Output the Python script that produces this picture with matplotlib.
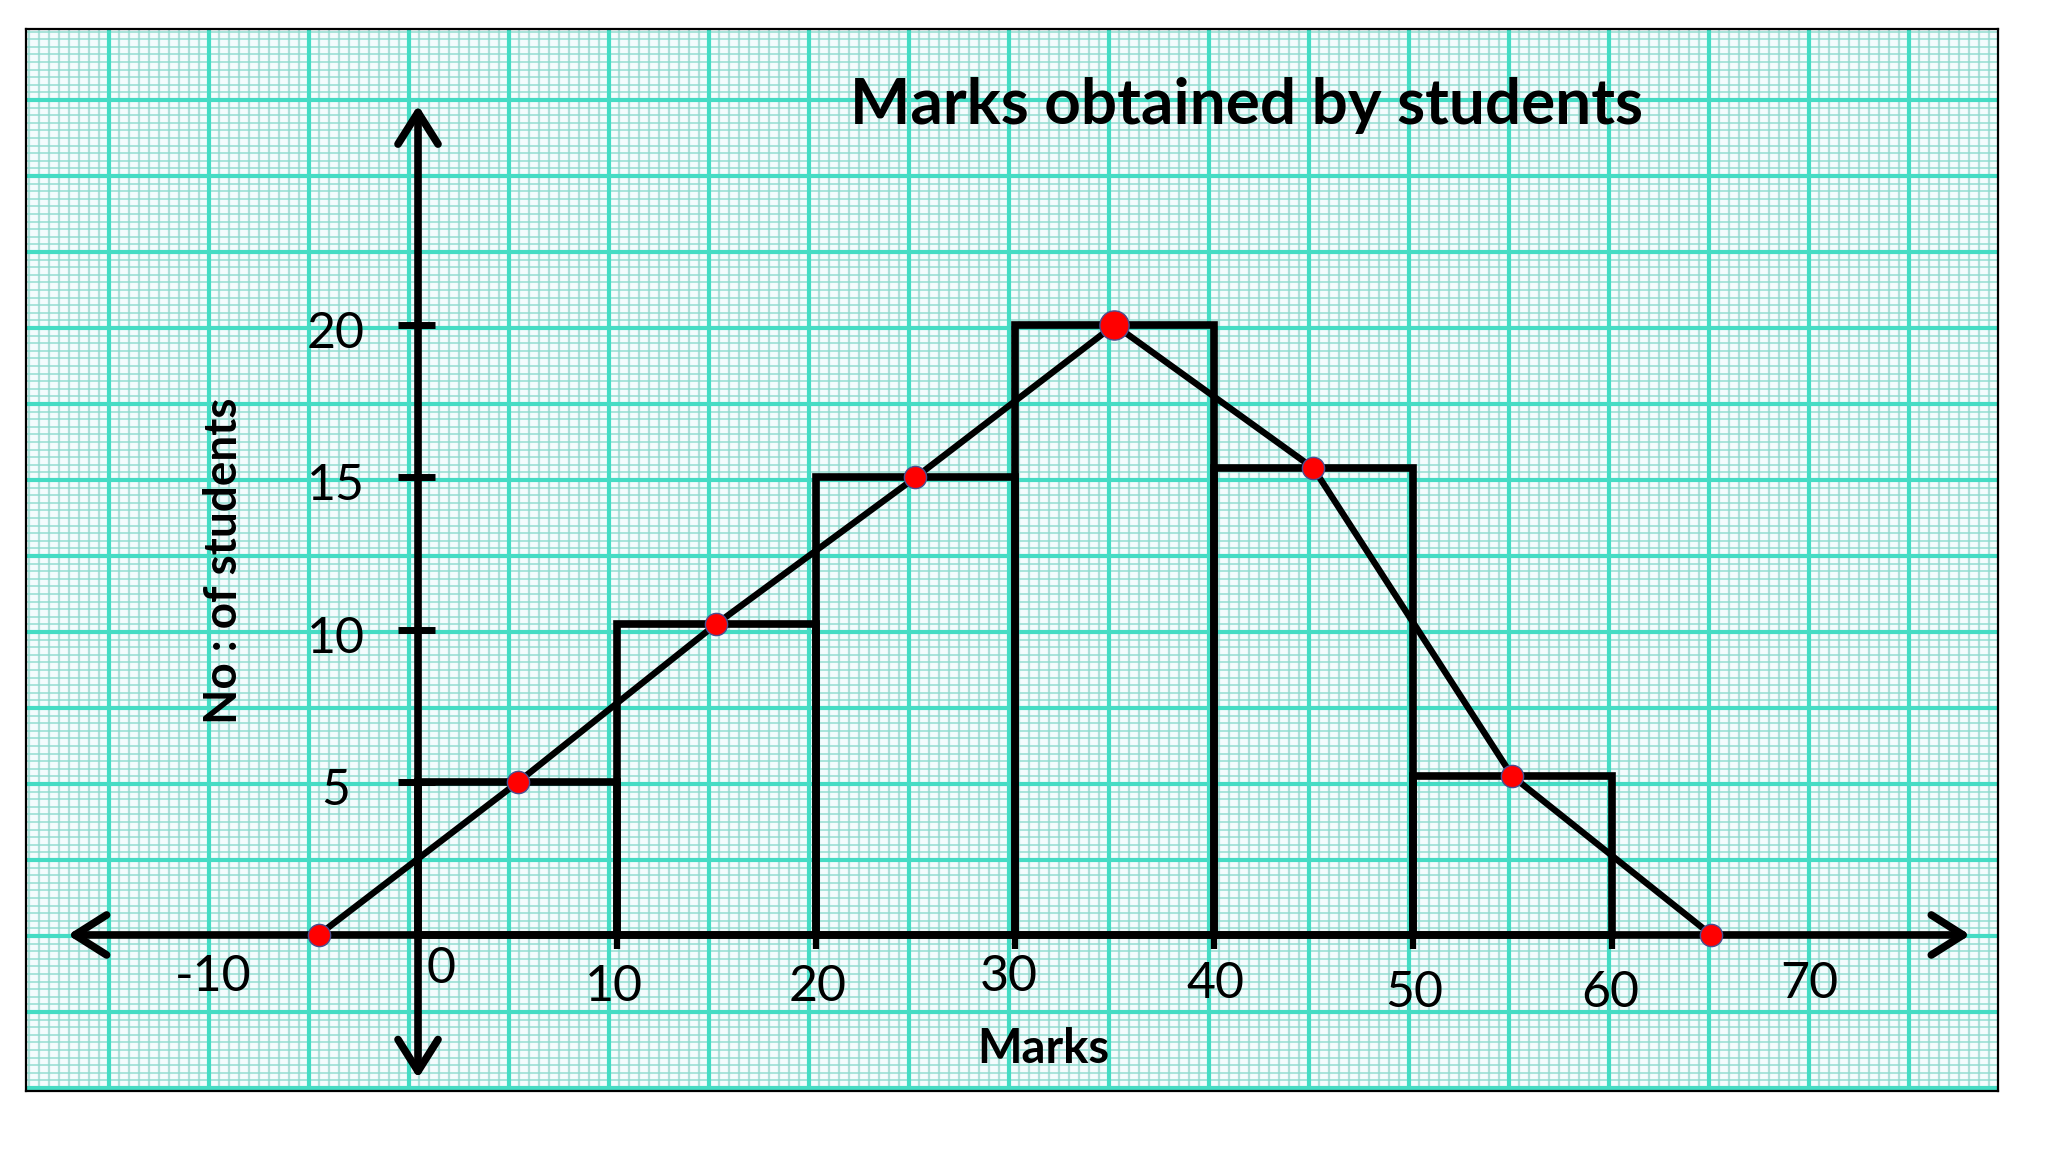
import numpy as np
import matplotlib
matplotlib.use('Agg')
import matplotlib.pyplot as plt

plt.rcParams['font.family'] = ['Lato', 'DejaVu Sans']

# ---------------- data ----------------
class_edges = [0, 10, 20, 30, 40, 50, 60]
frequencies = [5, 10.2, 15, 20, 15.3, 5.2]
x_tick_values = [-10, 0, 10, 20, 30, 40, 50, 60, 70]
x_tick_labels = ['-10', '0', '10', '20', '30', '40', '50', '60', '70']
y_tick_values = [5, 10, 15, 20]
y_tick_labels = ['5', '10', '15', '20']
title = 'Marks obtained by students'
xlabel = 'Marks'
ylabel = 'No : of students'

# frequency polygon: class midpoints, padded with empty classes at both ends
width = class_edges[1] - class_edges[0]
mids = [class_edges[0] - width / 2] + [e + width / 2 for e in class_edges[:-1]] + [class_edges[-1] + width / 2]
poly_vals = [0] + list(frequencies) + [0]

# ---------------- figure ----------------
W, H = 2048, 1152
fig = plt.figure(figsize=(W / 100, H / 100), dpi=100)
fig.patch.set_facecolor('white')
L, T, R, B = 26, 29, 1998, 1091
rect = [L / W, 1 - B / H, (R - L) / W, (B - T) / H]

# graph-paper background (pixel units)
bg = fig.add_axes(rect)
bg.set_xlim(L, R)
bg.set_ylim(B, T)
bg.set_facecolor('#f4fcfd')
bg.set_xticks([])
bg.set_yticks([])
for s in bg.spines.values():
    s.set_color('black')
    s.set_linewidth(1.6)
minor_v = np.arange(29, R, 10)
major_v = np.arange(109, R, 100)
minor_h = np.arange(31.6, B, 7.6)
major_h = np.arange(100, B, 76)
bg.vlines(minor_v, T, B, color='#9fd8d0', lw=1.6, alpha=0.8)
bg.hlines(minor_h, L, R, color='#8fdccf', lw=1.4, alpha=0.75)
bg.vlines(major_v, T, B, color='#45dcc4', lw=3.0)
bg.hlines(major_h, L, R, color='#45dcc4', lw=3.0)

# main data axes
ax = fig.add_axes(rect)
ax.set_facecolor('none')
ax.set_xlim(-19.70, 79.40)
ax.set_ylim(-5.115, 29.70)
ax.axis('off')

# histogram
ax.bar(class_edges[:-1], frequencies, width=width, align='edge', fill=False,
       edgecolor='black', linewidth=5.5, zorder=3)

# axes with arrows
arrow_style = '<->,head_length=0.95,head_width=0.6'
ax.annotate('', xy=(78.0, 0), xytext=(-17.6, 0),
            arrowprops=dict(arrowstyle=arrow_style, lw=5.5,
                            color='black', mutation_scale=24, shrinkA=0, shrinkB=0),
            zorder=4)
ax.annotate('', xy=(0, 27.2), xytext=(0, -4.7),
            arrowprops=dict(arrowstyle=arrow_style, lw=5.5,
                            color='black', mutation_scale=24, shrinkA=0, shrinkB=0),
            zorder=4)

# y ticks
for v in y_tick_values:
    ax.plot([-1.0, 0.85], [v, v], color='black', lw=5, solid_capstyle='butt', zorder=4)
# small x ticks under class boundaries
for e in class_edges[1:]:
    ax.plot([e, e], [0, -0.45], color='black', lw=4.5, solid_capstyle='butt', zorder=4)

# frequency polygon
ax.plot(mids, poly_vals, color='black', lw=4.6, zorder=5)
sizes = [16 if v != max(poly_vals) else 21 for v in poly_vals]
for xm, ym, ms in zip(mids, poly_vals, sizes):
    ax.plot(xm, ym, 'o', ms=ms, color='#ff0000', mec='#4d4d8f', mew=1.0, zorder=6)

# tick labels
x_label_dx = [-0.3, 1.16, -0.15, 0.1, -0.3, 0.05, 0.05, -0.1, -0.1]
x_label_base = [-1.85, -1.56, -2.15, -2.18, -1.85, -2.08, -2.37, -2.37, -2.08]
for v, lab, dx, by in zip(x_tick_values, x_tick_labels, x_label_dx, x_label_base):
    ax.text(v + dx, by, lab, ha='center', va='baseline', fontsize=36, color='black')
for v, lab in zip(y_tick_values, y_tick_labels):
    ax.text(-4.12, v - 0.75, lab, ha='center', va='baseline', fontsize=36, color='black')

# titles
fig.text(1246 / W, 1 - 124 / H, title, ha='center', va='baseline',
         fontsize=46, fontweight='bold', color='black')
fig.text(1043 / W, 1 - 1063 / H, xlabel, ha='center', va='baseline',
         fontsize=34, fontweight='bold', color='black')
fig.text(224 / W, 1 - 561 / H, ylabel, ha='center', va='center', rotation=90,
         fontsize=33, fontweight='bold', color='black')

fig.savefig('out.png', dpi=100, facecolor='white')
